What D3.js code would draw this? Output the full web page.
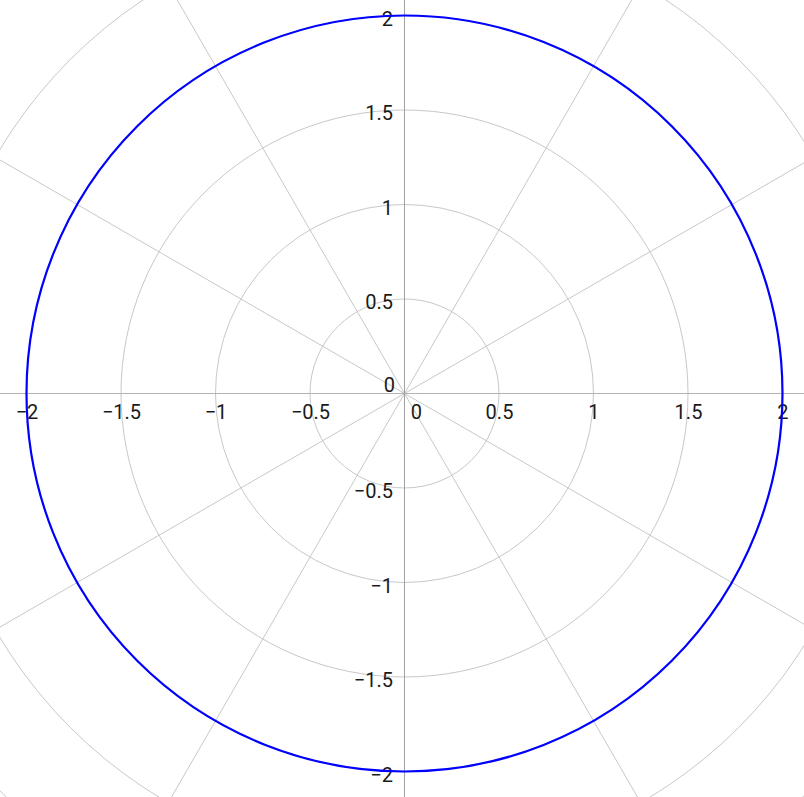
<!DOCTYPE html>
<html>
<head>
<meta charset="utf-8">
<script src="https://cdn.jsdelivr.net/npm/d3@7"></script>
<style>
  body { margin: 0; background: #fff; }
  svg { display: block; }
  .tick text { font-family: Roboto, sans-serif; font-size: 20px; fill: #1a1a1a; }
</style>
</head>
<body>
<div id="chart"></div>
<script>
// DATA
const xTicks = [-2, -1.5, -1, -0.5, 0, 0.5, 1, 1.5, 2];
const yTicks = [-2, -1.5, -1, -0.5, 0, 0.5, 1, 1.5, 2];
const gridRadii = [0.5, 1, 1.5, 2, 2.5, 3];       // polar grid circles
const gridAngles = [0, 30, 60, 90, 120, 150, 180, 210, 240, 270, 300, 330]; // degrees
const curveRadius = [2];                           // r = 2

const width = 804, height = 797;

// visible window (units)
const view = { xMin: -2.1402, xMax: 2.1138, yMin: -2.135, yMax: 2.082 };

const x = d3.scaleLinear().domain([view.xMin, view.xMax]).range([0, width]);
const y = d3.scaleLinear().domain([view.yMin, view.yMax]).range([height, 0]);
const unit = x(1) - x(0);

const svg = d3.select("#chart")
  .append("svg")
    .attr("width", width)
    .attr("height", height);

// + POLAR GRID circles
svg.append("g")
    .selectAll("circle")
    .data(gridRadii)
    .join("circle")
      .attr("cx", x(0))
      .attr("cy", y(0))
      .attr("r", d => x(d) - x(0))
      .attr("fill", "none")
      .attr("stroke", "#c8c8c8")
      .attr("stroke-width", 1);

// + POLAR GRID rays
const far = 4; // long enough to leave the window
svg.append("g")
    .selectAll("line")
    .data(gridAngles.filter(a => a % 90 !== 0))
    .join("line")
      .attr("x1", x(0))
      .attr("y1", y(0))
      .attr("x2", a => x(far * Math.cos(a * Math.PI / 180)))
      .attr("y2", a => y(far * Math.sin(a * Math.PI / 180)))
      .attr("stroke", "#c8c8c8")
      .attr("stroke-width", 1);

// + AXIS LINES
svg.append("line")
    .attr("x1", 0).attr("x2", width)
    .attr("y1", y(0)).attr("y2", y(0))
    .attr("stroke", "#b4b4b4");
svg.append("line")
    .attr("x1", x(0)).attr("x2", x(0))
    .attr("y1", 0).attr("y2", height)
    .attr("stroke", "#a0a0a0");

// + AXES (labels only)
const fmt = d3.format("");

const xAxisGroup = svg.append("g")
    .attr("transform", `translate(0, ${y(0)})`)
    .call(d3.axisBottom(x).tickValues(xTicks).tickSize(0).tickPadding(11.3).tickFormat(fmt));
xAxisGroup.select(".domain").remove();
xAxisGroup.selectAll(".tick")
    .filter(d => d === 0)
    .select("text")
      .attr("dx", 11.5);

const yAxisGroup = svg.append("g")
    .attr("transform", `translate(${x(0)}, 0)`)
    .call(d3.axisLeft(y).tickValues(yTicks).tickSize(0).tickPadding(11.5).tickFormat(fmt));
yAxisGroup.select(".domain").remove();
yAxisGroup.selectAll(".tick text").attr("dy", "0.5em");
yAxisGroup.selectAll(".tick")
    .filter(d => d === 0)
    .select("text")
      .attr("dx", 2)
      .attr("dy", "-0.1em");
xAxisGroup.selectAll(".tick text").attr("font-family", null).attr("font-size", null);
yAxisGroup.selectAll(".tick text").attr("font-family", null).attr("font-size", null);
svg.selectAll(".tick text").attr("fill", null);

// + CURVE r = 2
svg.append("g")
    .selectAll("circle")
    .data(curveRadius)
    .join("circle")
      .attr("cx", x(0))
      .attr("cy", y(0))
      .attr("r", d => x(d) - x(0))
      .attr("fill", "none")
      .attr("stroke", "#0000ff")
      .attr("stroke-width", 2.2);
</script>
</body>
</html>
